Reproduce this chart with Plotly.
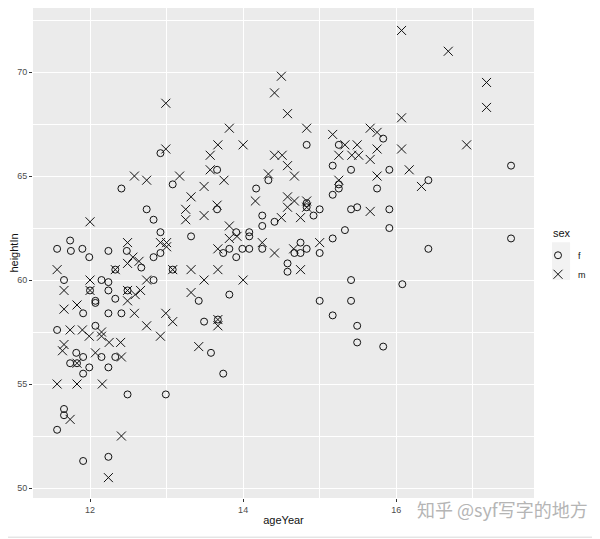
import plotly.graph_objects as go

# ageYear / heightIn for females (f) and males (m)
f_age = [11.74, 11.57, 11.75, 11.90, 12.24, 11.99, 12.48, 12.67, 12.33, 11.66,
         12.15, 12.24, 12.00, 12.24, 12.49, 12.33, 12.07, 12.07, 11.91, 12.24,
         12.41, 11.57, 12.07, 11.82, 12.15, 12.33, 11.91, 11.74, 11.83, 11.99,
         12.24, 11.91, 12.49, 11.66, 11.66, 11.57, 12.24, 11.91, 12.41, 12.92,
         13.66, 13.08, 14.17, 12.74, 13.66, 12.83, 14.25, 14.25, 13.91, 14.08,
         12.92, 13.32, 14.33, 14.08, 14.25, 14.08, 13.99, 12.92, 12.83, 13.74,
         13.82, 13.91, 13.08, 12.83, 13.42, 13.82, 13.49, 13.67, 13.58, 13.74,
         12.99, 14.83, 15.83, 15.25, 15.17, 15.41, 15.91, 15.25, 15.25, 15.75,
         15.17, 14.83, 14.83, 15.00, 14.92, 15.41, 15.49, 15.91, 14.41, 15.33,
         15.91, 14.75, 14.67, 14.75, 14.83, 15.00, 15.17, 14.58, 14.58, 15.41,
         15.00, 15.41, 15.17, 15.49, 15.49, 15.83, 17.50, 16.42, 17.50, 16.42,
         16.08]
f_height = [61.9, 61.5, 61.4, 61.5, 61.4, 61.1, 61.4, 60.6, 60.5, 60.0,
            60.0, 59.9, 59.5, 59.5, 59.5, 59.1, 59.0, 58.9, 58.4, 58.4,
            58.4, 57.6, 57.8, 56.5, 56.3, 56.3, 56.3, 56.0, 56.0, 55.8,
            55.8, 55.5, 54.5, 53.8, 53.5, 52.8, 51.5, 51.3, 64.4, 66.1,
            65.3, 64.6, 64.4, 63.4, 63.4, 62.9, 63.1, 62.6, 62.3, 62.3,
            62.3, 62.1, 64.8, 62.1, 61.5, 61.5, 61.5, 61.3, 61.1, 61.3,
            61.5, 61.1, 60.5, 60.0, 59.0, 59.3, 58.0, 58.1, 56.5, 55.5,
            54.5, 66.5, 66.8, 66.5, 65.5, 65.3, 65.3, 64.6, 64.4, 64.4,
            64.1, 63.7, 63.5, 63.4, 63.1, 63.4, 63.5, 63.4, 62.8, 62.4,
            62.5, 61.8, 61.3, 61.3, 61.5, 61.3, 62.0, 60.8, 60.4, 60.0,
            59.0, 59.0, 58.3, 57.8, 57.0, 56.8, 65.5, 64.8, 62.0, 61.5,
            59.8]

m_age = [12.00, 12.49, 12.56, 12.49, 12.64, 11.57, 12.33, 12.00, 12.74, 11.66,
         12.00, 12.49, 12.66, 12.49, 12.59, 11.83, 11.66, 12.58, 12.74, 11.74,
         11.90, 11.99, 12.15, 12.15, 12.25, 12.40, 11.66, 11.64, 12.07, 12.41,
         11.83, 11.57, 11.83, 12.16, 11.74, 12.41, 12.24, 12.58, 12.99, 13.82,
         12.99, 13.67, 14.00, 13.57, 13.57, 12.74, 13.17, 13.75, 14.33, 13.49,
         13.32, 14.16, 13.25, 13.66, 13.25, 13.49, 13.82, 14.25, 13.82, 13.92,
         12.92, 13.00, 13.00, 13.67, 13.08, 13.32, 13.67, 13.49, 14.00, 13.32,
         12.99, 13.08, 13.67, 13.67, 12.92, 13.42, 14.50, 14.41, 14.58, 14.83,
         15.17, 15.66, 15.75, 15.33, 15.49, 15.75, 14.41, 14.51, 15.25, 15.42,
         15.51, 15.66, 14.58, 14.67, 15.75, 15.25, 14.58, 14.67, 14.58, 14.83,
         14.83, 14.75, 15.66, 14.50, 14.41, 14.66, 15.00, 14.75, 16.07, 16.68,
         17.18, 17.18, 16.07, 16.07, 16.92, 16.17, 16.33]
m_height = [62.8, 61.8, 61.1, 60.8, 60.9, 60.5, 60.5, 60.0, 60.0, 59.5,
            59.5, 59.5, 59.5, 59.0, 59.3, 58.8, 58.6, 58.4, 57.8, 57.6,
            57.6, 57.3, 57.5, 57.3, 57.0, 57.0, 56.9, 56.6, 56.5, 56.3,
            56.0, 55.0, 55.0, 55.0, 53.3, 52.5, 50.5, 65.0, 68.5, 67.3,
            66.3, 66.5, 66.5, 66.0, 65.3, 64.8, 65.0, 64.8, 65.1, 64.5,
            64.0, 63.8, 63.4, 63.6, 62.9, 63.1, 62.6, 61.8, 62.0, 62.1,
            61.8, 61.8, 61.6, 61.5, 60.5, 60.5, 60.5, 60.0, 60.0, 59.4,
            58.4, 58.0, 58.1, 57.8, 57.3, 56.8, 69.8, 69.0, 68.0, 67.3,
            67.0, 67.3, 67.1, 66.5, 66.5, 66.3, 66.0, 66.0, 66.0, 66.0,
            66.0, 65.8, 65.5, 65.0, 65.0, 64.8, 64.0, 63.8, 63.5, 63.8,
            63.5, 63.0, 63.3, 63.0, 61.3, 61.5, 61.8, 60.5, 72.0, 71.0,
            69.5, 68.3, 67.8, 66.3, 66.5, 65.3, 64.5]

x_ticks = [12, 14, 16]
y_ticks = [50, 55, 60, 65, 70]

fig = go.Figure()
fig.add_trace(go.Scatter(
    x=f_age, y=f_height, mode="markers", name="f",
    marker=dict(symbol="circle-open", size=7, color="#111111",
                line=dict(width=1, color="#111111")),
))
fig.add_trace(go.Scatter(
    x=m_age, y=m_height, mode="markers", name="m",
    marker=dict(symbol="x-thin-open", size=9, color="#111111",
                line=dict(width=1, color="#111111")),
))

grid_major = dict(showgrid=True, gridcolor="white", gridwidth=1.1)
fig.update_layout(
    width=592, height=531,
    margin=dict(l=25, r=66, t=0, b=41, autoexpand=False),
    paper_bgcolor="white",
    plot_bgcolor="#EBEBEB",
    font=dict(family="Liberation Sans, Arial, sans-serif", color="#333333"),
    xaxis=dict(
        range=[11.255, 17.80], tickvals=x_ticks, ticktext=[str(v) for v in x_ticks],
        ticks="outside", ticklen=3, tickcolor="#333333", tickwidth=1,
        tickfont=dict(size=9, color="#4D4D4D"),
        minor=dict(tickvals=[11, 13, 15, 17], showgrid=True, gridcolor="white", gridwidth=0.5, ticks=""),
        zeroline=False, showline=False, automargin=False,
        title=dict(text="ageYear", font=dict(size=11, color="#111111"), standoff=2),
        **grid_major,
    ),
    yaxis=dict(
        range=[49.52, 73.08], tickvals=y_ticks, ticktext=[str(v) for v in y_ticks],
        ticks="outside", ticklen=3, tickcolor="#333333", tickwidth=1,
        tickfont=dict(size=9, color="#4D4D4D"),
        minor=dict(tickvals=[52.5, 57.5, 62.5, 67.5, 72.5], showgrid=True, gridcolor="white", gridwidth=0.5, ticks=""),
        zeroline=False, showline=False, automargin=False,
        title=dict(text="heightIn", font=dict(size=11, color="#111111"), standoff=2),
        **grid_major,
    ),
    legend=dict(
        font=dict(size=9, color="#111111"),
        x=1.008, xanchor="left", y=0.525, yanchor="top",
        bgcolor="rgba(0,0,0,0)", itemwidth=30, tracegroupgap=0,
    ),
    showlegend=True,
)

# legend title and key backgrounds (ggplot style)
fig.add_annotation(
    text="sex", xref="paper", yref="paper", x=1.034, y=0.541,
    xanchor="left", yanchor="middle", showarrow=False,
    font=dict(size=11, color="#111111"),
)
fig.add_shape(type="rect", xref="paper", yref="paper", x0=1.036, x1=1.072, y0=0.445, y1=0.522,
              line=dict(width=0), fillcolor="#F2F2F2", layer="below")

# screenshot frame lines (right and bottom)
fig.add_shape(type="line", xref="paper", yref="paper", x0=1.118, x1=1.118, y0=1.02, y1=-0.08,
              line=dict(color="#D9D9D9", width=1))
fig.add_shape(type="line", xref="paper", yref="paper", x0=-0.06, x1=1.118, y0=-0.08, y1=-0.08,
              line=dict(color="#D9D9D9", width=1))

fig.add_annotation(
    text="知乎 @syf写字的地方", xref="paper", yref="paper",
    x=1.112, y=-0.023, xanchor="right", yanchor="middle", showarrow=False,
    font=dict(family="Noto Sans CJK SC", size=18, color="#B5B5B5"),
)

fig.write_html("out.html")
